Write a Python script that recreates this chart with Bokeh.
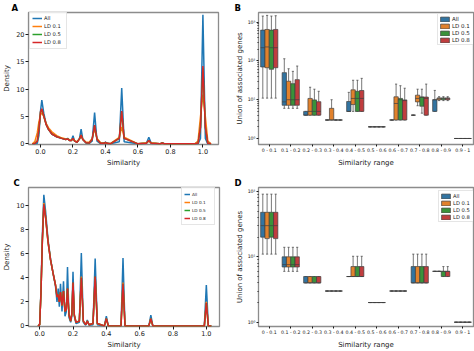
from bokeh.plotting import figure
from bokeh.layouts import column, row
from bokeh.models import (Range1d, FactorRange, FixedTicker, Legend, LegendItem,
                          Title, ColumnDataSource, NumeralTickFormatter)
from bokeh.transform import dodge
from bokeh.embed import file_html
from bokeh.resources import INLINE

FONT = "DejaVu Sans"
SERIES = ["All", "LD 0.1", "LD 0.5", "LD 0.8"]
LINE_COLORS = ["#1f77b4", "#ff7f0e", "#2ca02c", "#d62728"]
BOX_COLORS = ["#3274a1", "#e1812c", "#3a923a", "#c03d3e"]
RANGES = ["0 - 0.1", "0.1 - 0.2", "0.2 - 0.3", "0.3 - 0.4", "0.4 - 0.5",
          "0.5 - 0.6", "0.6 - 0.7", "0.7 - 0.8", "0.8 - 0.9", "0.9 - 1"]

# ---------------- Panel A: density of similarity ----------------
A_X = [-0.05, -0.035, -0.02, -0.01, 0.0, 0.008, 0.02, 0.035, 0.05, 0.07, 0.1, 0.13,
       0.155, 0.167, 0.18, 0.19, 0.2, 0.21, 0.225, 0.24, 0.25, 0.26, 0.28, 0.3,
       0.318, 0.333, 0.348, 0.37, 0.39, 0.4, 0.41, 0.43, 0.485, 0.5, 0.515, 0.6,
       0.652, 0.667, 0.682, 0.735, 0.75, 0.765, 0.95, 0.97, 0.985, 1.0, 1.015, 1.03, 1.05]
A_ALL = [0, 0, 0.1, 1.5, 6.0, 8.0, 5.6, 3.6, 2.6, 1.8, 1.3, 1.0,
         0.8, 1.0, 0.6, 0.6, 1.5, 0.5, 0.3, 1.0, 2.7, 0.9, 0.15, 0.1,
         0.5, 5.7, 0.5, 0.05, 0.1, 0.3, 0.1, 0.0, 0.4, 10.2, 0.4, 0.0,
         0.1, 1.2, 0.1, 0.0, 0.2, 0.0, 0.0, 0.0, 1.0, 23.6, 1.0, 0.0, 0.0]
A_LD01 = [0, 0.4, 2.0, 4.0, 5.3, 5.7, 5.0, 3.7, 2.9, 2.2, 1.5, 1.1,
          0.9, 0.9, 0.7, 0.6, 1.0, 0.6, 0.4, 0.9, 1.5, 0.9, 0.3, 0.3,
          1.0, 2.7, 1.0, 0.2, 0.15, 0.2, 0.1, 0.05, 1.2, 3.1, 1.2, 0.0,
          0.2, 0.5, 0.2, 0.0, 0.1, 0.0, 0.0, 0.5, 5.0, 9.0, 5.0, 0.5, 0.0]
A_LD05 = [0, 0.05, 0.5, 2.5, 5.8, 6.3, 5.1, 3.5, 2.6, 1.8, 1.3, 1.0,
          0.8, 0.9, 0.6, 0.6, 1.0, 0.5, 0.3, 0.9, 1.6, 0.8, 0.2, 0.15,
          0.8, 3.3, 0.8, 0.1, 0.1, 0.25, 0.1, 0.0, 1.0, 5.8, 1.0, 0.0,
          0.1, 0.6, 0.1, 0.0, 0.15, 0.0, 0.0, 0.1, 3.0, 13.8, 3.0, 0.1, 0.0]
A_LD08 = [0, 0.05, 0.5, 2.6, 5.9, 6.4, 5.1, 3.5, 2.6, 1.8, 1.3, 1.0,
          0.8, 0.9, 0.6, 0.6, 1.0, 0.5, 0.3, 0.9, 1.6, 0.8, 0.2, 0.15,
          0.8, 3.4, 0.8, 0.1, 0.1, 0.25, 0.1, 0.0, 1.0, 6.0, 1.0, 0.0,
          0.1, 0.6, 0.1, 0.0, 0.15, 0.0, 0.0, 0.1, 3.0, 14.2, 3.0, 0.1, 0.0]

# ---------------- Panel C: density of similarity ----------------
C_X = [-0.01, 0.0, 0.008, 0.016, 0.025, 0.035, 0.05, 0.065, 0.08, 0.095, 0.104, 0.111,
       0.118, 0.125, 0.134, 0.143, 0.152, 0.16, 0.167, 0.176, 0.186, 0.193, 0.2, 0.208,
       0.218, 0.238, 0.25, 0.262, 0.276, 0.286, 0.296, 0.32, 0.333, 0.346, 0.388, 0.4,
       0.412, 0.488, 0.5, 0.512, 0.655, 0.667, 0.679, 0.988, 1.0, 1.012, 1.03]
C_ALL = [0, 0.1, 3.0, 7.5, 10.9, 9.6, 7.2, 5.6, 4.4, 3.3, 2.0, 3.1,
         1.6, 3.5, 1.2, 3.7, 0.8, 1.2, 4.9, 0.7, 0.3, 0.8, 4.5, 0.8,
         0.2, 0.3, 6.05, 0.3, 0.05, 0.5, 0.05, 0.1, 5.6, 0.1, 0.0, 0.8,
         0.0, 0.0, 5.65, 0.0, 0.0, 0.9, 0.0, 0.0, 3.4, 0.0, 0.0]
C_LD01 = [0, 0.1, 2.8, 7.0, 10.2, 9.1, 7.0, 5.5, 4.4, 3.4, 2.4, 2.6,
          2.0, 2.8, 1.7, 2.9, 1.2, 1.4, 3.1, 0.9, 0.4, 1.0, 3.5, 0.9,
          0.3, 0.4, 4.1, 0.4, 0.1, 0.4, 0.1, 0.2, 4.0, 0.2, 0.0, 0.6,
          0.0, 0.0, 3.6, 0.0, 0.0, 0.6, 0.0, 0.0, 2.0, 0.0, 0.0]
C_LD05 = [0, 0.1, 2.8, 7.0, 10.1, 9.1, 7.0, 5.5, 4.4, 3.4, 2.4, 2.6,
          2.0, 2.8, 1.7, 2.9, 1.2, 1.4, 3.1, 0.9, 0.4, 1.0, 3.6, 0.9,
          0.3, 0.4, 4.0, 0.4, 0.1, 0.4, 0.1, 0.2, 4.1, 0.2, 0.0, 0.6,
          0.0, 0.0, 3.5, 0.0, 0.0, 0.6, 0.0, 0.0, 1.9, 0.0, 0.0]
C_LD08 = [0, 0.1, 2.8, 7.0, 10.1, 9.1, 7.0, 5.5, 4.4, 3.4, 2.4, 2.6,
          2.0, 2.8, 1.7, 2.9, 1.2, 1.4, 3.1, 0.9, 0.4, 1.0, 3.6, 0.9,
          0.3, 0.4, 4.0, 0.4, 0.1, 0.4, 0.1, 0.2, 4.1, 0.2, 0.0, 0.6,
          0.0, 0.0, 3.5, 0.0, 0.0, 0.6, 0.0, 0.0, 1.9, 0.0, 0.0]

# ---------------- Panel B: boxes (low, q1, median, q3, high) ----------------
B_ALL = [(11, 70, 220, 625, 1440), (6, 7.2, 8.8, 50, 114), (4, 4, 4, 5, 5),
         (3, 3, 3, 3, 3), (5, 5, 5, 9, 15.5), (2, 2, 2, 2, 2), (3, 3, 3, 3, 3),
         (4, 4, 4, 4, 4), (5, 5, 10, 10, 17.4), (1, 1, 1, 1, 1)]
B_LD01 = [(11, 67, 230, 650, 1500), (6, 7.2, 10, 30, 63), (4, 4, 5, 10.8, 21),
          (3, 3, 3, 6, 10), (5, 7.5, 10.8, 18, 31.8), (2, 2, 2, 2, 2), (3, 3, 8, 11.9, 25.3),
          (7, 8.8, 10.8, 13.1, 18.7), (9.5, 10, 11, 11, 12), (1, 1, 1, 1, 1)]
B_LD05 = [(11, 61, 220, 625, 1440), (6, 7.2, 10, 26, 54), (4, 4, 5, 9.9, 18.7),
          (3, 3, 3, 3, 3), (5, 5, 10.8, 16.5, 31.8), (2, 2, 2, 2, 2), (3, 3, 10, 10.8, 23),
          (4.5, 6.8, 11.7, 11.7, 18.7), (9.5, 10, 11, 11, 12), (1, 1, 1, 1, 1)]
B_LD08 = [(11, 67, 220, 650, 1470), (6, 7.2, 10, 33, 74), (4, 4, 5, 8.9, 16.5),
          (3, 3, 3, 3, 3), (5, 5, 10.8, 17.3, 35.6), (2, 2, 2, 2, 2), (3, 3, 9.5, 9.9, 19.8),
          (4, 4, 10.8, 11.7, 25.3), (9.5, 10, 11, 11, 12), (1, 1, 1, 1, 1)]

# ---------------- Panel D: boxes (low, q1, median, q3, high) ----------------
D_ALL = [(11, 20, 30, 48, 91), (6, 7, 7.6, 10, 14), (4, 4, 4, 5, 5), (3, 3, 3, 3, 3),
         (5, 5, 5, 5, 5), (2, 2, 2, 2, 2), (3, 3, 3, 3, 3), (4, 4, 4, 7.1, 11),
         (6, 6, 6, 6, 6), (1, 1, 1, 1, 1)]
D_LD01 = [(11, 19, 30, 48, 91), (6, 7, 7.6, 10, 14), (4, 4, 4, 5, 5), (3, 3, 3, 3, 3),
          (5, 5, 5, 7.1, 10.2), (2, 2, 2, 2, 2), (3, 3, 3, 3, 3), (4, 4, 4, 7.1, 11),
          (6, 6, 6, 6, 6), (1, 1, 1, 1, 1)]
D_LD05 = [(11, 20, 30, 48, 91), (6, 7, 7.6, 10, 14), (4, 4, 4, 5, 5), (3, 3, 3, 3, 3),
          (5, 5, 5, 7.1, 10.2), (2, 2, 2, 2, 2), (3, 3, 3, 3, 3), (4, 4, 4, 7.1, 11),
          (5, 5, 6, 6, 7.1), (1, 1, 1, 1, 1)]
D_LD08 = [(11, 19, 30, 48, 91), (6, 7, 7.6, 10, 14), (4, 4, 4, 5, 5), (3, 3, 3, 3, 3),
          (5, 5, 5, 7.1, 10.2), (2, 2, 2, 2, 2), (3, 3, 3, 3, 3), (4, 4, 4, 7.1, 11),
          (5, 5, 6, 6, 7.1), (1, 1, 1, 1, 1)]

FRAME = "#8c8c8c"
INK = "#1a1a1a"
EDGE = "#3f3f3f"


def base_style(p, tick_size, label_size):
    p.outline_line_color = FRAME
    p.outline_line_width = 1.3
    p.background_fill_color = "white"
    p.border_fill_color = "white"
    p.xgrid.visible = False
    p.ygrid.visible = False
    for ax in p.xaxis + p.yaxis:
        ax.axis_line_color = None
        ax.major_tick_line_color = INK
        ax.major_tick_in = 0
        ax.major_tick_out = 3
        ax.minor_tick_line_color = None
        ax.major_label_text_font = FONT
        ax.major_label_text_font_size = tick_size
        ax.major_label_text_color = INK
        ax.axis_label_text_font = FONT
        ax.axis_label_text_font_size = label_size
        ax.axis_label_text_font_style = "normal"
        ax.axis_label_text_color = INK
        ax.major_label_standoff = 1
        ax.axis_label_standoff = 2


def letter(p, text, offset):
    p.add_layout(Title(text=text, align="left", offset=offset, standoff=0,
                       vertical_align="bottom", text_font=FONT, text_font_style="bold",
                       text_font_size="8.5px", text_color="black"), "above")


def make_legend(items, loc, font, glyph_w, glyph_h, row_h, pad):
    return Legend(items=items, location=loc, margin=0, padding=pad, spacing=0,
                  glyph_width=glyph_w, glyph_height=glyph_h, label_height=row_h,
                  label_standoff=2, label_text_font=FONT, label_text_font_size=font,
                  label_text_color=INK, border_line_color="#cccccc",
                  border_line_width=0.8, background_fill_alpha=0.8)


def density_panel(xs, ys_list, width, height, borders, xr, yr, yticks, leg):
    p = figure(width=width, height=height, output_backend="svg", toolbar_location=None,
               x_range=Range1d(*xr), y_range=Range1d(*yr),
               min_border_left=borders[0], min_border_right=borders[1],
               min_border_top=borders[2], min_border_bottom=borders[3])
    base_style(p, "6.5px", "7px")
    p.xaxis.ticker = FixedTicker(ticks=[0.0, 0.2, 0.4, 0.6, 0.8, 1.0])
    p.xaxis.formatter = NumeralTickFormatter(format="0.0")
    p.yaxis.ticker = FixedTicker(ticks=yticks)
    p.xaxis.axis_label = "Similarity"
    p.yaxis.axis_label = "Density"
    items = []
    for name, ys, col in zip(SERIES, ys_list, LINE_COLORS):
        r = p.line(xs, ys, line_color=col, line_width=1.5)
        items.append(LegendItem(label=name, renderers=[r]))
    p.add_layout(make_legend(items, *leg))
    return p


def box_panel(rows_by_series, width, height, borders, yr, yticks, leg):
    p = figure(width=width, height=height, output_backend="svg", toolbar_location=None,
               x_range=FactorRange(*RANGES, range_padding=0), y_range=Range1d(*yr),
               y_axis_type="log",
               min_border_left=borders[0], min_border_right=borders[1],
               min_border_top=borders[2], min_border_bottom=borders[3])
    base_style(p, "4.7px", "7px")
    p.xaxis.major_tick_out = 2
    p.yaxis.major_tick_out = 2
    p.yaxis.axis_label_standoff = 1
    minors = [m * d for d in [1, 10, 100, 1000] for m in range(2, 10)]
    p.yaxis.ticker = FixedTicker(ticks=yticks, minor_ticks=minors)
    sup = {0: "\u2070", 1: "\u00b9", 2: "\u00b2", 3: "\u00b3"}
    p.yaxis.major_label_overrides = {t: "10" + sup[i] for i, t in enumerate(yticks)}
    p.yaxis.minor_tick_line_color = INK
    p.yaxis.minor_tick_out = 1
    p.yaxis.minor_tick_in = 0
    p.xaxis.axis_label = "Similarity range"
    p.yaxis.axis_label = "Union of associated genes"
    p.xaxis.axis_label_standoff = 3
    offsets = [-0.3, -0.1, 0.1, 0.3]
    items = []
    for name, rows_, col, off in zip(SERIES, rows_by_series, BOX_COLORS, offsets):
        src = ColumnDataSource(dict(cat=RANGES,
                                    low=[r[0] for r in rows_], q1=[r[1] for r in rows_],
                                    med=[r[2] for r in rows_], q3=[r[3] for r in rows_],
                                    high=[r[4] for r in rows_]))
        xc = dodge("cat", off, range=p.x_range)
        p.segment(x0=xc, x1=xc, y0="q3", y1="high", source=src, line_color=EDGE, line_width=0.7)
        p.segment(x0=xc, x1=xc, y0="low", y1="q1", source=src, line_color=EDGE, line_width=0.7)
        xl = dodge("cat", off - 0.05, range=p.x_range)
        xr_ = dodge("cat", off + 0.05, range=p.x_range)
        p.segment(x0=xl, x1=xr_, y0="high", y1="high", source=src, line_color=EDGE, line_width=0.7)
        p.segment(x0=xl, x1=xr_, y0="low", y1="low", source=src, line_color=EDGE, line_width=0.7)
        r = p.vbar(x=xc, width=0.2, top="q3", bottom="q1", source=src, fill_color=col,
                   line_color=EDGE, line_width=0.7)
        bl = dodge("cat", off - 0.1, range=p.x_range)
        br = dodge("cat", off + 0.1, range=p.x_range)
        p.segment(x0=bl, x1=br, y0="med", y1="med", source=src, line_color=EDGE, line_width=0.7)
        items.append(LegendItem(label=name, renderers=[r]))
    p.add_layout(make_legend(items, *leg))
    return p


pA = density_panel(A_X, [A_ALL, A_LD01, A_LD05, A_LD08], 232, 175, (28, 14, 0, 30),
                   (-0.074, 1.096), (-0.12, 24.0), [0, 5, 10, 15, 20],
                   ((1, 95), "5.2px", 10, 8, 8, 2))
letter(pA, "A", -17)

pB = box_panel([B_ALL, B_LD01, B_LD05, B_LD08], 242, 175, (24, 1, 0, 31),
               (0.70, 1780), [1, 10, 100, 1000],
               ((179, 99), "5.5px", 11, 6, 7, 1))
letter(pB, "B", -24)

pC = density_panel(C_X, [C_ALL, C_LD01, C_LD05, C_LD08], 232, 176, (26, 13, 0, 24),
                   (-0.067, 1.079), (-0.05, 11.5), [0, 2, 4, 6, 8, 10],
                   ((153, 101), "4.2px", 6, 8, 8, 2))
letter(pC, "C", -15)

pD = box_panel([D_ALL, D_LD01, D_LD05, D_LD08], 242, 176, (24, 1, 0, 25),
               (0.86, 115), [1, 10, 100],
               ((180, 104), "5.2px", 11, 6, 7, 1))
letter(pD, "D", -24)

layout = column(row(pA, pB, spacing=0), row(pC, pD, spacing=0), spacing=0)
open("out.html", "w").write(file_html(layout, INLINE))
